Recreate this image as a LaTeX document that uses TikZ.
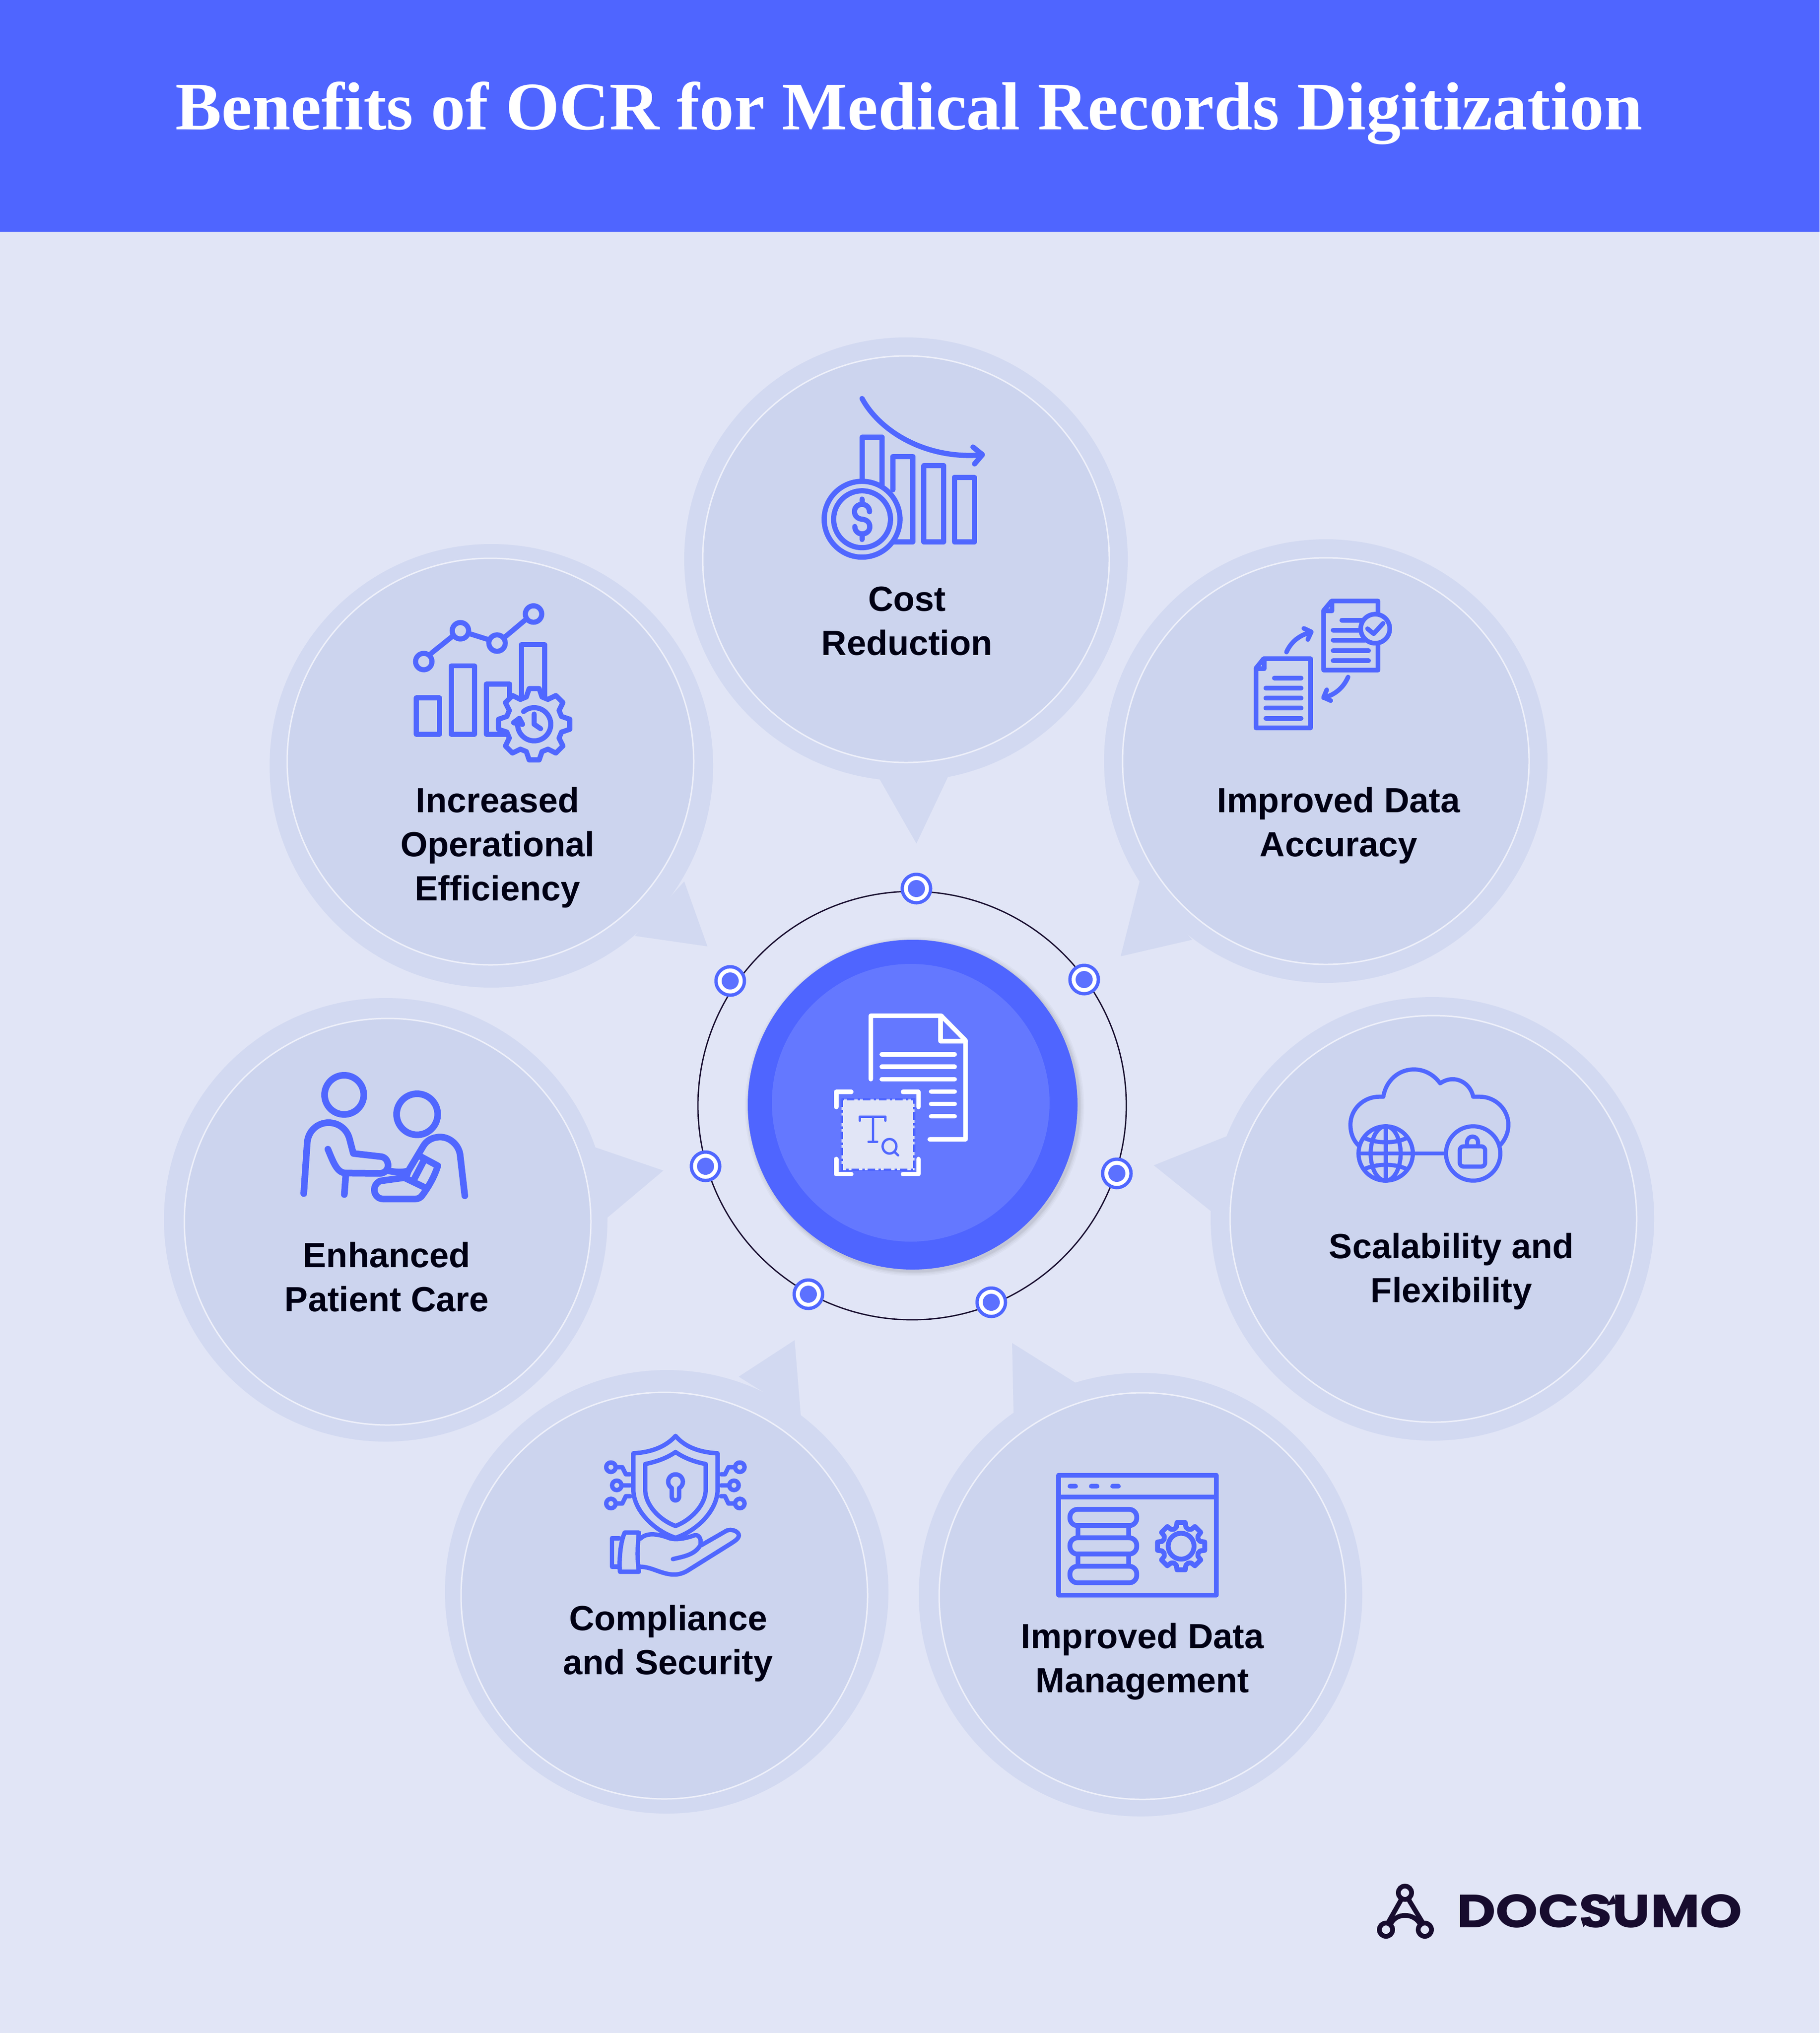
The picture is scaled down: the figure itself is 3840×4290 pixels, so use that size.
\documentclass[tikz,border=0pt]{standalone}
\usepackage{fontspec}
\setmainfont{Liberation Sans}
\newfontfamily\titlefont{Liberation Serif}
\newfontfamily\logofont{Poppins}
\definecolor{pagebg}{HTML}{E1E5F6}
\definecolor{headblue}{HTML}{4F65FF}
\definecolor{iconblue}{HTML}{5067FF}
\definecolor{midblue}{HTML}{6478FF}
\definecolor{bubout}{HTML}{D2D9F1}
\definecolor{bubin}{HTML}{CCD4EE}
\definecolor{bubring}{HTML}{EEF0FA}
\definecolor{inkdark}{HTML}{170C2E}
\tikzset{
  bubbleouter/.style={circle,fill=bubout,minimum size=187.2pt,inner sep=0pt,outer sep=0pt},
  bubbleinner/.style={circle,fill=bubin,draw=bubring,line width=0.6pt,minimum size=171.6pt,inner sep=0pt,outer sep=0pt},
  tailshape/.style={fill=bubout},
  labeltext/.style={font=\fontsize{14.75pt}{18.6pt}\selectfont\bfseries,text=black!92!blue,align=center,inner sep=0pt},
  orbitdot/.style={circle,fill=white,draw=iconblue,line width=1.4pt,minimum size=12pt,inner sep=0pt,outer sep=0pt},
  dotcore/.style={circle,fill=midblue!60!iconblue,minimum size=7.2pt,inner sep=0pt,outer sep=0pt},
  ico/.style={draw=iconblue,line cap=round,line join=round},
}
\begin{document}
\begin{tikzpicture}[x=0.2pt,y=-0.2pt]
\useasboundingbox (0,0) rectangle (3840,4290);
\fill[pagebg] (0,0) rectangle (3840,4290);
\fill[headblue] (0,0) rectangle (3840,489);
\node[anchor=base west,inner sep=0pt,text=white] (title) at (369,274)
  {\resizebox{619.2pt}{20.2pt}{\titlefont\bfseries Benefits of OCR for Medical Records Digitization}};

% bubbles
\fill[tailshape] (1854,1640) -- (1934,1780) -- (2005,1630) -- cycle;
\fill[tailshape] (2405,1860) -- (2365,2018) -- (2516,1983) -- cycle;
\fill[tailshape] (1340,1975) -- (1493,1997) -- (1444,1860) -- cycle;
\fill[tailshape] (1253,2420) -- (1400,2470) -- (1280,2571) -- cycle;
\fill[tailshape] (2593,2396) -- (2435,2459) -- (2557,2557) -- cycle;
\fill[tailshape] (1559,2905) -- (1677,2828) -- (1690,2987) -- cycle;
\fill[tailshape] (2270,2918) -- (2136,2834) -- (2139,2981) -- cycle;
\node[bubbleouter] (bo1) at (1912,1180) {};
\node[bubbleouter] (bo2) at (2798,1606) {};
\node[bubbleouter] (bo3) at (1037,1616) {};
\node[bubbleouter] (bo4) at (814,2574) {};
\node[bubbleouter] (bo5) at (3023,2572) {};
\node[bubbleouter] (bo6) at (1407,3359) {};
\node[bubbleouter] (bo7) at (2407,3365) {};
\node[bubbleinner] (bi1) at (1912,1180) {};
\node[bubbleinner] (bi2) at (2798,1606) {};
\node[bubbleinner] (bi3) at (1035,1607) {};
\node[bubbleinner] (bi4) at (818,2578) {};
\node[bubbleinner] (bi5) at (3025,2572) {};
\node[bubbleinner] (bi6) at (1402,3367) {};
\node[bubbleinner] (bi7) at (2411,3368) {};

% labels
\node[labeltext] (l1) at (1914,1311) {Cost\\Reduction};
\node[labeltext] (l2) at (2825,1742) {Improved Data\\Accuracy};
\node[labeltext] (l3) at (1050,1788) {Increased\\Operational\\Efficiency};
\node[labeltext] (l4) at (816,2695) {Enhanced\\Patient Care};
\node[labeltext] (l5) at (3063,2683) {Scalability and\\Flexibility};
\node[labeltext] (l6) at (1410,3468) {Compliance\\and Security};
\node[labeltext] (l7) at (2411,3506) {Improved Data\\Management};

% centre
\draw[inkdark,line width=0.55pt] (1925,2333) circle (452);
\foreach \k/\o in {10/0.025,7/0.03,4/0.035,2/0.04}
  \fill[black,opacity=\o] (1930,2335) circle (348+\k);
\fill[headblue] (1926,2331) circle (348);
\fill[midblue] (1922,2327) circle (293);
\foreach \n/\p in {a/{1934,1875},b/{1541,2070},c/{2288,2067},d/{1489,2461},e/{2357,2476},f/{1706,2731},g/{2092,2748}}{
  \node[orbitdot] (dot\n) at (\p) {};
  \node[dotcore] (core\n) at (\p) {};
}
% central document icon
\begin{scope}[shift={(1450,1800)},xscale=0.606,yscale=0.638]
  \draw[draw=white,line cap=round,line join=round,line width=1.9pt]
    (640,748) -- (640,538) -- (885,538) -- (970,620) -- (970,947) -- (845,947);
  \draw[draw=white,line cap=round,line join=round,line width=1.9pt]
    (883,540) -- (883,622) -- (970,622);
  \foreach \yy in {666,707,748} \draw[white,line cap=round,line width=1.9pt] (678,\yy) -- (932,\yy);
  \foreach \yy in {789,830,871} \draw[white,line cap=round,line width=1.9pt] (850,\yy) -- (932,\yy);
  \draw[white,line cap=round,line join=round,line width=1.9pt] (520,840) -- (520,790) -- (572,790);
  \draw[white,line cap=round,line join=round,line width=1.9pt] (752,790) -- (806,790) -- (806,840);
  \draw[white,line cap=round,line join=round,line width=1.9pt] (520,1012) -- (520,1062) -- (572,1062);
  \draw[white,line cap=round,line join=round,line width=1.9pt] (806,1012) -- (806,1062) -- (752,1062);
  \fill[pagebg] (538,815) rectangle (792,1048);
  \draw[iconblue,line width=1pt,dash pattern=on 3.2pt off 1.3pt on 1pt off 1.3pt] (538,815) rectangle (792,1048);
  \draw[ico,line width=1pt] (602,885) -- (602,872) -- (691,872) -- (691,885);
  \draw[ico,line width=1pt] (648,872) -- (648,955) (632,955) -- (662,955);
  \draw[ico,line width=1pt] (705,970) circle (24);
  \draw[ico,line width=1pt] (722,988) -- (735,1000);
\end{scope}

% cost icon
\begin{scope}[shift={(1700,800)},scale=1/3]
  \tikzset{every path/.append style={ico,line width=2.2pt}}
  \draw (359,640) -- (359,368) -- (483,368) -- (483,680);
  \draw (554,700) -- (554,489) -- (678,489) -- (678,1029) -- (540,1029);
  \draw (749,548) rectangle (873,1029);
  \draw (943,622) rectangle (1068,1029);
  \draw[fill=bubin] (358,887) circle (240);
  \draw (358,887) circle (180);
  \draw (405,840) .. controls (405,812) and (385,793) .. (358,793) .. controls (330,793) and (310,812) .. (310,838) .. controls (310,870) and (335,885) .. (358,887) .. controls (385,889) and (407,905) .. (407,935) .. controls (407,962) and (385,980) .. (358,980) .. controls (332,980) and (312,960) .. (312,933);
  \draw (358,760) -- (358,793) (358,980) -- (358,1015);
  \draw (358,123) .. controls (470,330) and (760,510) .. (1118,480);
  \draw (1060,430) -- (1120,478) -- (1070,537);
\end{scope}

% efficiency icon
\begin{scope}[shift={(850,1240)},scale=1/3]
  \tikzset{every path/.append style={ico,line width=2.15pt}}
  \draw (85,698) rectangle (232,928);
  \draw (307,495) rectangle (454,928);
  \draw (700,928) -- (529,928) -- (529,611) -- (676,611) -- (676,720);
  \draw (751,700) -- (751,360) -- (898,360) -- (898,700);
  \draw (181,415) -- (312,310) (418,290) -- (545,330) (650,310) -- (775,205);
  \foreach \cx/\cy in {133/468,365/273,597/351,828/167} \draw (\cx,\cy) circle (52);
  \begin{scope}[shift={(832,865)}]
    \draw[fill=bubin] (-16:180) \foreach \a in {0,45,...,315} { -- (\a-8:228) -- (\a+8:228) -- (\a+16:180) -- (\a+29:180) } -- cycle;
    \draw (-105,0) arc (180:-130:105);
    \draw (0,-65) -- (0,0) -- (41,28);
    \fill[iconblue] (-130,-10) -- (-94,-37) -- (-74,0) -- cycle;
    \draw (-130,-10) -- (-94,-37) -- (-74,0) -- cycle;
  \end{scope}
\end{scope}

% accuracy icon
\begin{scope}[shift={(2600,1240)},scale=1/3]
  \tikzset{every path/.append style={ico,line width=1.95pt}}
  \draw (152,510) -- (200,450) -- (498,450) -- (498,888) -- (152,888) -- cycle;
  \draw (205,455) -- (205,513) -- (152,513);
  \draw (268,572) -- (438,572);
  \foreach \yy in {636,700,763,827} \draw (214,\yy) -- (438,\yy);
  \draw (580,145) -- (630,85) -- (925,85) -- (925,522) -- (580,522) -- cycle;
  \draw (633,90) -- (633,147) -- (580,147);
  \draw (695,206) -- (820,206);
  \draw (640,270) -- (805,270);
  \draw (640,334) -- (840,334);
  \draw (640,398) -- (865,398);
  \draw (640,462) -- (865,462);
  \draw[fill=bubin] (907,260) circle (92);
  \draw (858,260) -- (897,292) -- (957,226);
  \draw (345,408) .. controls (375,340) and (430,300) .. (500,282);
  \draw (455,258) -- (502,280) -- (480,328);
  \draw (735,566) .. controls (705,635) and (650,680) .. (580,697);
  \draw (600,647) -- (580,695) -- (625,715);
\end{scope}

% patient icon
\begin{scope}[shift={(600,2230)},scale=1/3]
  \tikzset{every path/.append style={ico,line width=2.8pt}}
  \draw (379,241) circle (124);
  \draw (841,364) circle (130);
  \draw (123,866) -- (145,545) .. controls (150,470) and (210,417) .. (280,417) .. controls (345,417) and (398,460) .. (413,520) -- (437,612) -- (612,632) .. controls (640,635) and (657,660) .. (657,688) .. controls (657,715) and (635,738) .. (605,738) -- (385,736) .. controls (335,730) and (315,680) .. (276,585);
  \draw (390,737) -- (380,872);
  \draw (1143,880) -- (1113,620) .. controls (1105,560) and (1050,508) .. (987,508) .. controls (940,508) and (900,530) .. (880,565) -- (785,723) .. controls (745,733) and (700,730) .. (660,722);
  \draw (785,723) -- (772,760);
  \draw (760,765) -- (615,785) .. controls (590,788) and (570,815) .. (570,842) .. controls (570,875) and (595,900) .. (625,900) -- (830,900) .. controls (850,900) and (865,890) .. (875,875) .. controls (915,820) and (950,760) .. (972,690) -- (860,630);
  \draw (760,765) -- (895,830);
  \draw (882,660) -- (822,775);
\end{scope}

% scalability icon
\begin{scope}[shift={(2800,2220)},scale=1/3]
  \tikzset{every path/.append style={ico,line width=1.75pt}}
  \draw (200,590) .. controls (165,555) and (150,510) .. (150,460) .. controls (150,360) and (235,283) .. (330,283) -- (358,283) .. controls (375,180) and (455,110) .. (552,110) .. controls (620,110) and (680,145) .. (718,198) .. controls (745,180) and (770,172) .. (798,172) .. controls (860,172) and (915,220) .. (927,283) -- (970,283) .. controls (1070,283) and (1150,365) .. (1150,460) .. controls (1150,510) and (1130,555) .. (1097,590);
  \draw (373,642) circle (172);
  \draw (373,642) ellipse (95 and 172);
  \draw (373,470) -- (373,814) (201,642) -- (545,642);
  \draw (240,545) .. controls (320,580) and (430,580) .. (505,545);
  \draw (240,740) .. controls (320,705) and (430,705) .. (505,740);
  \draw (927,642) circle (172);
  \draw (545,642) -- (755,642);
  \draw[rounded corners=1.6pt] (842,597) rectangle (1003,725);
  \draw (888,597) -- (888,570) arc (180:360:35) -- (958,597);
\end{scope}

% compliance icon
\begin{scope}[shift={(1250,3000)},scale=1/3]
  \tikzset{every path/.append style={ico,line width=1.85pt}}
  \draw (527,90) .. controls (460,165) and (360,195) .. (260,200) -- (260,430) .. controls (260,560) and (390,690) .. (527,735) .. controls (665,690) and (793,560) .. (793,430) -- (793,200) .. controls (690,195) and (590,165) .. (527,90) -- cycle;
  \draw (527,192) .. controls (470,232) and (400,255) .. (335,268) -- (335,430) .. controls (335,530) and (430,625) .. (527,660) .. controls (620,625) and (718,530) .. (718,430) -- (718,268) .. controls (650,255) and (585,232) .. (527,192) -- cycle;
  \draw (503,420) arc (121:419:46.6);
  \draw (503,420) -- (503,475) arc (180:0:23.5) -- (550,420);
  \foreach \cx/\cy in {118/288,155/403,118/518,934/288,897/403,934/518} \draw (\cx,\cy) circle (30);
  \draw (155,288) -- (190,288) -- (212,333) -- (240,333);
  \draw (195,403) -- (240,403);
  \draw (155,518) -- (190,518) -- (212,472) -- (240,472);
  \draw (897,288) -- (862,288) -- (840,333) -- (815,333);
  \draw (860,403) -- (815,403);
  \draw (897,518) -- (862,518) -- (840,472) -- (815,472);
  \draw (170,738) -- (125,738) -- (125,918) -- (170,918);
  \draw (205,702) -- (295,702) .. controls (285,800) and (285,880) .. (295,950) -- (175,950) .. controls (170,880) and (175,770) .. (205,702) -- cycle;
  \draw (305,740) .. controls (350,695) and (430,715) .. (490,738) .. controls (530,750) and (590,740) .. (650,718) .. controls (685,715) and (690,760) .. (685,780) .. controls (650,845) and (570,855) .. (510,870);
  \draw (690,782) -- (850,690) .. controls (880,675) and (930,695) .. (928,722) .. controls (925,740) and (910,750) .. (880,770) -- (600,945) .. controls (530,985) and (470,965) .. (400,940) .. controls (360,925) and (330,918) .. (300,918);
\end{scope}

% management icon
\begin{scope}[shift={(2200,3080)},scale=1/3]
  \tikzset{every path/.append style={ico,line width=2.05pt}}
  \draw (102,100) rectangle (1101,858);
  \draw (102,238) -- (1101,238);
  \foreach \xa/\xb in {175/209,310/345,445/480} \draw (\xa,169) -- (\xb,169);
  \draw[rounded corners=3.2pt] (174,315) rectangle (597,418);
  \draw[rounded corners=3.2pt] (174,495) rectangle (597,598);
  \draw[rounded corners=3.2pt] (174,675) rectangle (597,780);
  \foreach \xa in {225,545} \draw (\xa,418) -- (\xa,495) (\xa,598) -- (\xa,675);
  \begin{scope}[shift={(878,548)}]
    \draw (-14:124) \foreach \a in {0,45,...,315} { -- (\a-10:152) -- (\a+10:152) -- (\a+14:124) -- (\a+22.5:116) -- (\a+31:124) } -- cycle;
    \draw (0,0) circle (82);
  \end{scope}
\end{scope}

% logo
\draw[inkdark,line width=2pt] (2965,3994) circle (14);
\draw[inkdark,line width=2pt] (2925,4072) circle (14);
\draw[inkdark,line width=2pt] (3007,4072) circle (14);
\draw[inkdark,line width=2pt] (2958,4007) -- (2929,4058) (2972,4007) -- (3003,4058);
\draw[inkdark,line width=2pt] (2934,4062) .. controls (2945,4035) and (2985,4035) .. (2998,4062);
\node[anchor=base west,inner sep=0pt,text=inkdark] (logo) at (3073,4067)
  {\resizebox{120.6pt}{14pt}{\logofont\bfseries DOCSUMO}};
\fill[inkdark] (3405,3999) -- (3411,4017) -- (3391,4021) -- cycle;
\fill[inkdark] (3336,4048) -- (3356,4044) -- (3342,4067) -- cycle;
\end{tikzpicture}
\end{document}
